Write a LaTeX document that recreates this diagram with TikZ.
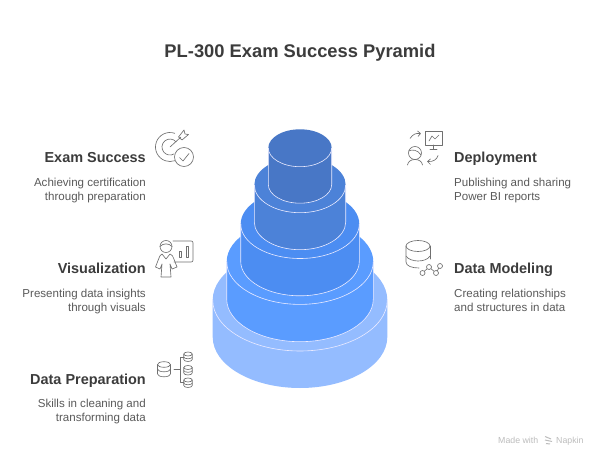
\documentclass[tikz,border=0pt]{standalone}
\usepackage{fontspec}
\setmainfont{Liberation Sans}
\definecolor{tA}{HTML}{94BCFF}
\definecolor{tB}{HTML}{5A9CFF}
\definecolor{tC}{HTML}{4C8DF2}
\definecolor{tD}{HTML}{4C82D8}
\definecolor{tE}{HTML}{4877C6}
\definecolor{headc}{HTML}{3C3C3C}
\definecolor{descc}{HTML}{5A5A5A}
\definecolor{iconc}{HTML}{707070}
\definecolor{markc}{HTML}{BDBDBD}
% #1 rx, #2 top centre y, #3 ry, #4 height, #5 colour
\newcommand{\tier}[5]{%
  \fill[#5] (300-#1,#2) -- (300-#1,#2+#4)
    arc[start angle=180,end angle=0,x radius=#1,y radius=#3]
    -- (300+#1,#2)
    arc[start angle=0,end angle=-180,x radius=#1,y radius=#3] -- cycle;
  \draw[tierline] (300-#1,#2) arc[start angle=180,end angle=0,x radius=#1,y radius=#3];
}
\newcommand{\tierside}[4]{%
  \draw[tierline] (300-#1,#2) -- (300-#1,#2+#4)
    arc[start angle=180,end angle=0,x radius=#1,y radius=#3] -- (300+#1,#2);
}
% small database drum: x, y top centre, rx, ry, height
\newcommand{\drum}[5]{%
  \draw[icon] (#1,#2) ellipse[x radius=#3,y radius=#4];
  \draw[icon] (#1-#3,#2) -- (#1-#3,#2+#5) arc[start angle=180,end angle=0,x radius=#3,y radius=#4] -- (#1+#3,#2);
}
\tikzset{
  tierline/.style={white!92!blue,line width=0.6bp},
  titletext/.style={font=\fontsize{18.4}{22}\selectfont\bfseries,text=headc,inner sep=0},
  headtext/.style={font=\fontsize{14.5}{17}\selectfont\bfseries,text=headc,inner sep=0},
  desctext/.style={font=\fontsize{11.6}{14}\selectfont,text=descc,inner sep=0},
  icon/.style={draw=iconc,line width=0.65bp,line cap=round,line join=round},
  marktext/.style={text=markc,inner sep=0,font=\fontsize{8.8}{11}\selectfont},
}
\begin{document}
\begin{tikzpicture}[x=1bp,y=-1bp]
\useasboundingbox[fill=white] (0,0) rectangle (600,462);
% pyramid
\tier{87.3}{300}{51}{37}{tA}
\tier{73.3}{261.7}{42.7}{37.3}{tB}
\tierside{73.3}{261.7}{42.7}{37.3}
\tier{59.3}{224}{34.5}{37.3}{tC}
\tierside{59.3}{224}{34.5}{37.3}
\tier{45.7}{185}{27.7}{37}{tD}
\tierside{45.7}{185}{27.7}{37}
\tier{31.7}{148}{18.7}{36.5}{tE}
\tierside{31.7}{148}{18.7}{36.5}
% title
\node[titletext,anchor=base] (title) at (300,58) {PL-300 Exam Success Pyramid};
% left labels
\node[headtext,anchor=base east] (h1) at (146,162.7) {Exam Success};
\node[desctext,anchor=north east,align=right] (d1) at (146,178.2) {Achieving certification\\through preparation};
\node[headtext,anchor=base east] (h2) at (146,273.7) {Visualization};
\node[desctext,anchor=north east,align=right] (d2) at (146,289.2) {Presenting data insights\\through visuals};
\node[headtext,anchor=base east] (h3) at (146,384.3) {Data Preparation};
\node[desctext,anchor=north east,align=right] (d3) at (146,399.2) {Skills in cleaning and\\transforming data};
% right labels
\node[headtext,anchor=base west] (h4) at (454,162.7) {Deployment};
\node[desctext,anchor=north west,align=left] (d4) at (454,178.2) {Publishing and sharing\\Power BI reports};
\node[headtext,anchor=base west] (h5) at (454,273.7) {Data Modeling};
\node[desctext,anchor=north west,align=left] (d5) at (454,289.2) {Creating relationships\\and structures in data};
% icon: target
\draw[icon] (174.7,133.3) arc[start angle=-71,end angle=-289,radius=14.5];
\draw[icon] (176.1,141.9) arc[start angle=-40,end angle=-300,radius=8];
\draw[icon] (170,147) -- (181,137);
\draw[icon] (178.5,137) -- (184,130) -- (185,134) -- (188.5,134.5) -- (182,140) -- cycle;
\draw[icon] (184,157) circle[radius=9.5];
\draw[icon] (179.5,157.5) -- (183,161) -- (189,153.5);
% icon: person and board
\draw[icon] (166,246.5) circle[radius=6];
\draw[icon] (160,246.5) .. controls (163,243) and (169,243) .. (172,246.5);
\draw[icon] (173,241) -- (191,241) .. controls (192.5,241) and (193,241.5) .. (193,243) -- (193,260) .. controls (193,261.5) and (192.5,262) .. (191,262) -- (174,262);
\draw[icon] (179,251) rectangle (181,257);
\draw[icon] (186,246) rectangle (188.5,257);
\draw[icon] (162,254) -- (166,259) -- (170,254) .. controls (172,255) and (173,256) .. (173.5,258) -- (177,267) -- (172,269) -- (170,264) -- (171,277) -- (161,277) -- (162,264) -- (160,269) -- (155.5,267) -- (159,258) .. controls (159.5,256) and (160.5,255) .. (162,254) -- cycle;
% icon: data preparation
\drum{164}{364.5}{6.5}{2.8}{9.5}
\draw[icon] (157.5,369) arc[start angle=180,end angle=0,x radius=6.5,y radius=2.8];
\draw[icon] (174,369) -- (180,369);
\draw[icon] (184,357) -- (180,357) -- (180,382) -- (184,382);
\drum{188}{354}{4.2}{2}{5.5}
\draw[icon] (183.8,357) arc[start angle=180,end angle=0,x radius=4.2,y radius=1.8];
\drum{188}{367.5}{4.2}{2}{5.5}
\draw[icon] (183.8,370.5) arc[start angle=180,end angle=0,x radius=4.2,y radius=1.8];
\drum{188}{380}{4.2}{2}{5.5}
\draw[icon] (183.8,383) arc[start angle=180,end angle=0,x radius=4.2,y radius=1.8];
% icon: deployment
\draw[icon] (410,138.5) .. controls (413,134) and (416,133) .. (420,133.5);
\draw[icon] (417.5,131) -- (420.5,133.5) -- (418,136.5);
\draw[icon] (425,131) rectangle (442.5,145);
\draw[icon] (429,141) -- (432,136) -- (435,139) -- (439,135);
\draw[icon] (433.5,145) -- (433.5,149);
\draw[icon] (430,149) -- (437,149);
\draw[icon] (415,153) circle[radius=6.5];
\draw[icon] (408.7,151) .. controls (412,149) and (418,150) .. (421,155);
\draw[icon] (407.5,165) .. controls (408,161.5) and (411,159.5) .. (415,159.5) .. controls (419,159.5) and (422,161.5) .. (422.5,165);
\draw[icon] (438,155.5) .. controls (437,159.5) and (433,162) .. (428,161.5);
\draw[icon] (430.5,159) -- (427.5,161.5) -- (430.5,164.5);
% icon: data modeling
\draw[icon] (418,246) ellipse[x radius=12,y radius=5.5];
\draw[icon] (406,246) -- (406,262) .. controls (406,266) and (412,268) .. (419,268);
\draw[icon] (430,246) -- (430,259);
\draw[icon] (406,256) .. controls (408,259.5) and (414,261) .. (418,261) .. controls (423,261) and (428,259.5) .. (430,256);
\coordinate (g1) at (422.5,273);
\coordinate (g2) at (429,267);
\coordinate (g3) at (436,273);
\coordinate (g4) at (440,266);
\draw[icon] (g1) -- (g2) -- (g3) -- (g4);
\foreach \p in {g1,g2,g3,g4} \filldraw[icon,fill=white] (\p) circle[radius=2.5];
% watermark
\node[marktext,anchor=base west] (made) at (498,443) {Made with};
\node[marktext,anchor=base west] (nap) at (556,443) {Napkin};
\draw[markc,line width=1bp] (545,436.5) -- (551,439) (545,440) -- (552,441.5) (546,443.5) -- (550,444);
\end{tikzpicture}
\end{document}
